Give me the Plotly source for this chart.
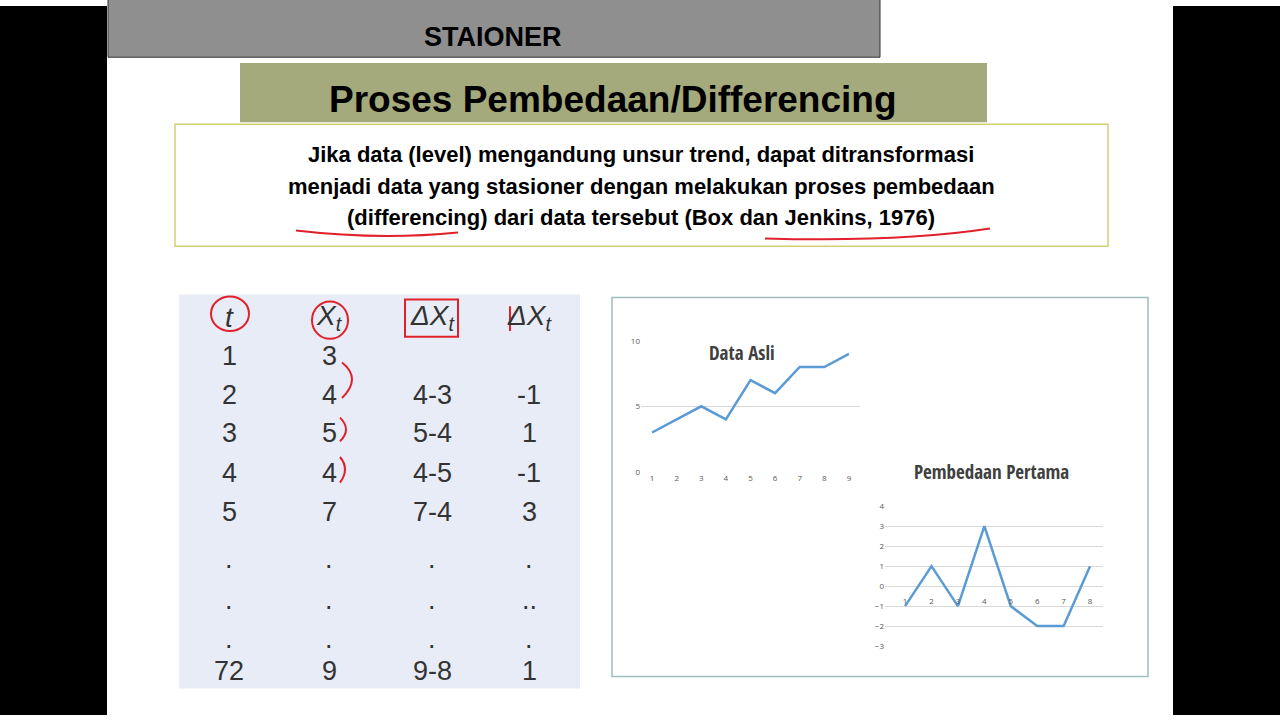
import plotly.graph_objects as go

# ---- data ----
asli_x = [1, 2, 3, 4, 5, 6, 7, 8, 9]
asli_y = [3, 4, 5, 4, 7, 6, 8, 8, 9]
diff_x = [1, 2, 3, 4, 5, 6, 7, 8]
diff_y = [-1, 1, -1, 3, -1, -2, -2, 1]

tbl_t = ["1", "2", "3", "4", "5", ".", ".", ".", "72"]
tbl_x = ["3", "4", "5", "4", "7", ".", ".", ".", "9"]
tbl_dexpr = ["", "4-3", "5-4", "4-5", "7-4", ".", ".", ".", "9-8"]
tbl_dval = ["", "-1", "1", "-1", "3", ".", "..", ".", "1"]
tbl_heads = ["<i>t</i>", "<i>X<sub>t</sub></i>", "<i>ΔX<sub>t</sub></i>", "<i>ΔX<sub>t</sub></i>"]

W, H = 1280, 720
def px(x): return x / W
def py(y): return 1 - y / H

fig = go.Figure()
line = dict(color="#5b9bd5", width=2.5)
fig.add_trace(go.Scatter(x=asli_x, y=asli_y, mode="lines", line=line, xaxis="x", yaxis="y", showlegend=False))
fig.add_trace(go.Scatter(x=diff_x, y=diff_y, mode="lines", line=line, xaxis="x2", yaxis="y2", showlegend=False))

tickfont = dict(family="Open Sans", size=8, color="#595959")
fig.update_layout(
    width=W, height=H, margin=dict(l=0, r=0, t=0, b=0),
    paper_bgcolor="white", plot_bgcolor="rgba(0,0,0,0)",
    xaxis=dict(domain=[px(641), px(860)], range=[0.55, 9.45], tickvals=asli_x, showgrid=False,
               zeroline=False, showline=False, tickfont=tickfont, anchor="y", ticklen=0),
    yaxis=dict(domain=[py(473), py(340)], range=[0, 10], tickvals=[0, 5, 10], gridcolor="#d9d9d9",
               zeroline=False, tickfont=tickfont, anchor="x", ticklen=0),
    xaxis2=dict(domain=[px(885), px(1103)], range=[0.24, 8.49], tickvals=diff_x, showgrid=False,
                zeroline=False, showline=False, tickfont=tickfont, anchor="free", position=py(598), ticklen=0),
    yaxis2=dict(domain=[py(650), py(508)], range=[-3, 4], dtick=1, gridcolor="#d9d9d9",
                zeroline=False, tickfont=tickfont, anchor="x2", ticklen=0),
)

red = dict(color="#e0202a", width=2)
shapes = [
    dict(type="rect", xref="paper", yref="paper", x0=0, x1=px(107), y0=0, y1=1, fillcolor="black", line_width=0, layer="below"),
    dict(type="rect", xref="paper", yref="paper", x0=px(1173), x1=1, y0=0, y1=1, fillcolor="black", line_width=0, layer="below"),
    dict(type="rect", xref="paper", yref="paper", x0=px(108), x1=px(880), y0=py(52), y1=1.01, fillcolor="#8f8f8f",
         line=dict(color="#333", width=1), layer="below"),
    dict(type="rect", xref="paper", yref="paper", x0=px(240), x1=px(987), y0=py(118), y1=py(58), fillcolor="#a5aa7c", line_width=0, layer="below"),
    dict(type="rect", xref="paper", yref="paper", x0=px(175), x1=px(1108), y0=py(244), y1=py(120), fillcolor="white",
         line=dict(color="#d6cf72", width=1.5), layer="below"),
    dict(type="rect", xref="paper", yref="paper", x0=px(179), x1=px(580), y0=py(693), y1=py(293), fillcolor="#e8ecf6", line_width=0, layer="below"),
    dict(type="rect", xref="paper", yref="paper", x0=px(612), x1=px(1148), y0=py(681), y1=py(296), fillcolor="white",
         line=dict(color="#9fbfbf", width=1.5), layer="below"),
    dict(type="circle", xref="paper", yref="paper", x0=px(211), x1=px(249), y0=py(330), y1=py(295), line=red),
    dict(type="circle", xref="paper", yref="paper", x0=px(312), x1=px(348), y0=py(338), y1=py(300), line=red),
    dict(type="rect", xref="paper", yref="paper", x0=px(405), x1=px(458), y0=py(336), y1=py(298), line=red),
    dict(type="path", xref="paper", yref="paper", path=f"M {px(510)} {py(305)} L {px(510)} {py(330)}", line=red),
    dict(type="path", xref="paper", yref="paper", path=f"M {px(342)} {py(362)} Q {px(362)} {py(378)} {px(342)} {py(398)}", line=red),
    dict(type="path", xref="paper", yref="paper", path=f"M {px(340)} {py(418)} Q {px(352)} {py(430)} {px(340)} {py(442)}", line=red),
    dict(type="path", xref="paper", yref="paper", path=f"M {px(340)} {py(458)} Q {px(350)} {py(470)} {px(340)} {py(484)}", line=red),
    dict(type="path", xref="paper", yref="paper", path=f"M {px(296)} {py(228)} Q {px(380)} {py(238)} {px(458)} {py(230)}", line=red),
    dict(type="path", xref="paper", yref="paper", path=f"M {px(765)} {py(236)} Q {px(900)} {py(240)} {px(990)} {py(226)}", line=red),
]
fig.update_layout(shapes=shapes)

ann = []
def A(x, y, text, size, color="black", family="Liberation Sans", bold=False):
    ann.append(dict(x=px(x), y=py(y), xref="paper", yref="paper", text=f"<b>{text}</b>" if bold else text,
                    showarrow=False, font=dict(family=family, size=size, color=color), xanchor="center", yanchor="middle"))

A(493, 31, "STAIONER", 27, bold=True)
A(613, 95, "Proses Pembedaan/Differencing", 37, bold=True)
A(641, 151, "Jika data (level) mengandung unsur trend, dapat ditransformasi", 22, bold=True)
A(641, 183, "menjadi data yang stasioner dengan melakukan proses pembedaan", 22, bold=True)
A(641, 215, "(differencing) dari data tersebut (Box dan Jenkins, 1976)", 22, bold=True)

cols = [229, 329, 432, 529]
for c, h in zip(cols, tbl_heads):
    A(c, 316, h, 28, color="#333")
rows = [355, 395, 434, 474, 514, 562, 603, 643, 675]
for i, r in enumerate(rows):
    for c, col in zip(cols, [tbl_t, tbl_x, tbl_dexpr, tbl_dval]):
        if col[i]:
            A(c, r, col[i], 27, color="#333", family="Liberation Sans")

ctitle = "Open Sans Condensed, Liberation Sans"
A(742, 352, "Data Asli", 19, color="#404040", family=ctitle, bold=True)
A(991, 473, "Pembedaan Pertama", 19, color="#404040", family=ctitle, bold=True)
fig.update_layout(annotations=ann)

fig.write_html("out.html", config={"displayModeBar": False},
               post_script="document.body.style.margin='0';document.body.style.overflow='hidden';")
